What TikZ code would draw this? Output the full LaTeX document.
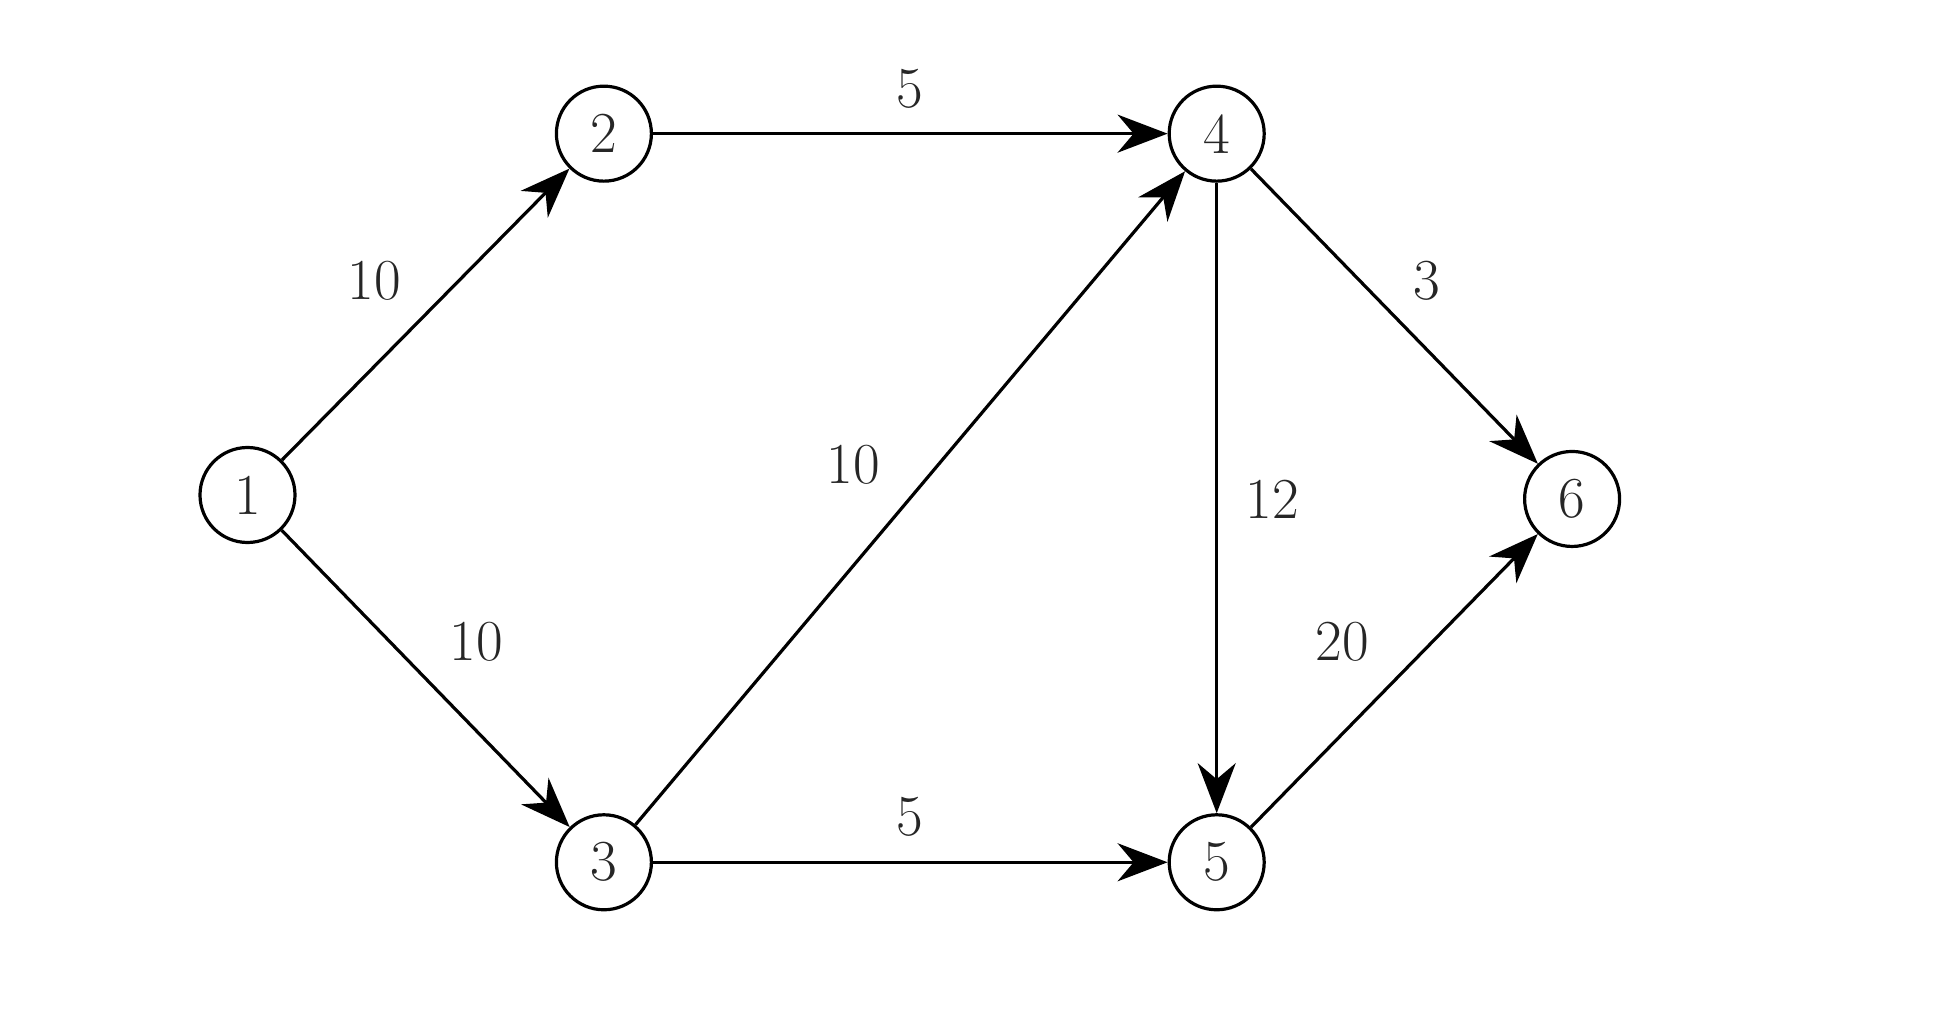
\documentclass[tikz,border=0pt]{standalone}
\usetikzlibrary{arrows.meta}
\begin{document}
\begin{tikzpicture}[
  vert/.style={circle,draw,line width=1.6pt,minimum size=47.5pt,inner sep=0pt,font=\fontsize{29}{32}\selectfont,text=black!85},
  edge/.style={line width=1.6pt,-{Stealth[length=25pt,width=19pt,inset=8pt]}},
  lab/.style={font=\fontsize{29}{32}\selectfont,text=black!85}]
\useasboundingbox (0,0) rectangle (970pt,-506pt);
\begin{scope}[x=0.495pt,y=-0.495pt]
\node[vert] (n1) at (250,500) {1};
\node[vert] (n2) at (610,135) {2};
\node[vert] (n3) at (610,871) {3};
\node[vert] (n4) at (1229,135) {4};
\node[vert] (n5) at (1229,871) {5};
\node[vert] (n6) at (1588,504) {6};
\draw[edge] (n1) -- (n2);
\draw[edge] (n1) -- (n3);
\draw[edge] (n2) -- (n4);
\draw[edge] (n3) -- (n4);
\draw[edge] (n3) -- (n5);
\draw[edge] (n4) -- (n5);
\draw[edge] (n4) -- (n6);
\draw[edge] (n5) -- (n6);
\node[lab] (l12) at (378,284) {10};
\node[lab] (l13) at (481,648) {10};
\node[lab] (l24) at (919,90) {5};
\node[lab] (l34) at (862,469) {10};
\node[lab] (l35) at (919,825) {5};
\node[lab] (l45) at (1285,504) {12};
\node[lab] (l46) at (1441,284) {3};
\node[lab] (l56) at (1356,648) {20};
\end{scope}
\end{tikzpicture}
\end{document}
